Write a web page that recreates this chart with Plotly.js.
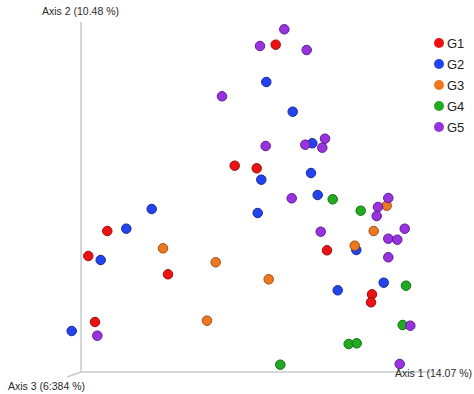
<!DOCTYPE html>
<html>
<head>
<meta charset="utf-8">
<script src="https://cdn.plot.ly/plotly-3.0.1.min.js"></script>
<style>html,body{margin:0;padding:0;background:#fff;}#chart{width:474px;height:394px;}</style>
</head>
<body>
<div id="chart"></div>
<script>
// Group names
const groups = ["G1", "G2", "G3", "G4", "G5"];
const colors = ["#ee1111", "#2244ee", "#ee7722", "#22aa22", "#9933dd"];
const edges = ["#991010", "#1a2a99", "#a04e10", "#137013", "#5e1a99"];

// Axis 1 / Axis 2 coordinates (projected)
const g1x = [194.7, 153.7, 175.7, 246.0, 291.0, 290.0, 26.3, 7.3, 87.0, 14.0];
const g1y = [327.3, 206.3, 203.7, 121.7, 77.7, 69.7, 141.0, 116.0, 97.7, 50.0];

const g2x = [185.3, 211.7, 231.3, 180.3, 230.0, 236.7, 176.7, 275.3, 302.7, 256.7, 70.7, 45.3, 19.7, -9.3];
const g2y = [290.0, 260.3, 228.7, 192.3, 199.0, 177.0, 159.0, 122.0, 89.3, 81.7, 163.0, 143.3, 112.0, 41.0];

const g3x = [305.7, 292.7, 273.7, 134.7, 187.7, 126.0, 82.0];
const g3y = [166.3, 141.0, 126.3, 109.7, 92.7, 51.3, 123.7];

const g4x = [251.7, 279.7, 325.0, 321.7, 267.7, 275.7, 199.3];
const g4y = [172.7, 161.3, 86.3, 47.0, 28.0, 28.7, 7.3];

const g5x = [203.3, 179.0, 225.7, 141.0, 184.7, 224.3, 244.0, 241.3, 210.7, 307.3, 297.0, 295.7, 239.7, 323.7, 307.3, 316.3, 307.3, 329.3, 318.7, 16.3];
const g5y = [342.7, 326.0, 322.0, 275.7, 226.0, 227.3, 233.3, 224.3, 173.7, 174.0, 165.0, 156.0, 140.3, 143.3, 133.3, 132.3, 114.7, 46.3, 8.0, 36.3];

const axisLabels = ["Axis 1 (14.07 %)", "Axis 2 (10.48 %)", "Axis 3 (6:384 %)"];

const xs = [g1x, g2x, g3x, g4x, g5x];
const ys = [g1y, g2y, g3y, g4y, g5y];

const traces = groups.map((g, i) => ({
  type: "scatter", mode: "markers", name: g,
  x: xs[i], y: ys[i],
  marker: {size: 9.5, color: colors[i], line: {color: edges[i], width: 1}},
  showlegend: false, hoverinfo: "skip"
}));

const axisColor = "#c3cbcb";
const shapes = [
  {type: "line", xref: "x", yref: "y", x0: 0, y0: 0, x1: 0, y1: 350, line: {color: axisColor, width: 1.5}},
  {type: "line", xref: "x", yref: "y", x0: 0, y0: 0, x1: 350, y1: 0, line: {color: axisColor, width: 1.5}},
  {type: "line", xref: "x", yref: "y", x0: 0, y0: 0, x1: -14, y1: -5, line: {color: axisColor, width: 1.5}}
];

const lblFont = {family: "Liberation Sans, Arial", size: 10.5, color: "#2a2a2a"};
const annotations = [
  {xref: "paper", yref: "paper", x: 393/474, y: 1 - 373/394, xanchor: "left", yanchor: "middle", text: axisLabels[0], showarrow: false, font: lblFont},
  {xref: "paper", yref: "paper", x: 80/474, y: 1 - 11/394, xanchor: "center", yanchor: "middle", text: axisLabels[1], showarrow: false, font: lblFont},
  {xref: "paper", yref: "paper", x: 6/474, y: 1 - 386/394, xanchor: "left", yanchor: "middle", text: axisLabels[2], showarrow: false, font: lblFont}
];

// manual legend
groups.forEach((g, i) => {
  const cy = 43 + 21 * i;
  shapes.push({type: "circle", xref: "paper", yref: "paper",
    x0: 434/474, x1: 444/474, y0: 1 - (cy + 5)/394, y1: 1 - (cy - 5)/394,
    fillcolor: colors[i], line: {width: 0}});
  annotations.push({xref: "paper", yref: "paper", x: 445/474, y: 1 - cy/394, xanchor: "left", yanchor: "middle",
    text: g, showarrow: false, font: {family: "Liberation Sans, Arial", size: 13, color: "#222"}});
});

const layout = {
  width: 474, height: 394,
  margin: {l: 0, r: 0, t: 0, b: 0},
  paper_bgcolor: "#fff", plot_bgcolor: "#fff",
  xaxis: {range: [-81, 393], visible: false, fixedrange: true},
  yaxis: {range: [-22, 372], visible: false, fixedrange: true},
  shapes: shapes, annotations: annotations, showlegend: false
};

Plotly.newPlot("chart", traces, layout, {displayModeBar: false, staticPlot: true});
</script>
</body>
</html>
